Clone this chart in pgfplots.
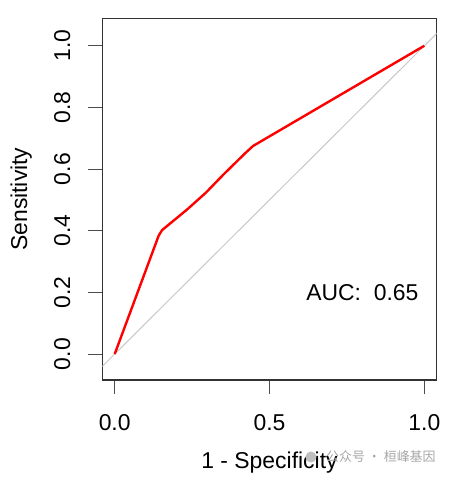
\documentclass[border=0pt]{standalone}
\usepackage{fontspec}
\setmainfont{Liberation Sans}
\newfontfamily\cjk{Noto Sans CJK SC}
\usepackage{pgfplots}
\pgfplotsset{compat=1.18}
\begin{document}
\begin{tikzpicture}
\useasboundingbox (0bp,0bp) rectangle (449bp,477bp);
\begin{axis}[
  at={(102.3bp,97bp)}, anchor=south west,
  scale only axis, width=334.4bp, height=361.7bp,
  xmin=-0.04, xmax=1.04, ymin=-0.084, ymax=1.089,
  xtick={0,0.5,1}, ytick={0,0.2,0.4,0.6,0.8,1},
  tick pos=left, tick align=outside,
  major tick length=14bp,
  tick style={black!70, line width=1bp},
  axis line style={black!80, line width=1.1bp},
  /pgf/number format/assume math mode=true,
  /pgf/number format/.cd, fixed, fixed zerofill, precision=1, /pgfplots/.cd,
  tick label style={font=\fontsize{23}{27}\selectfont, inner sep=0pt},
  xticklabel style={anchor=center, yshift=-29bp},
  yticklabel style={anchor=center, rotate=90, yshift=26bp},
  xlabel={1 - Specificity},
  ylabel={Sensitivity},
  label style={font=\fontsize{23}{27}\selectfont, inner sep=0pt},
  xlabel style={at={(axis description cs:0.5,-0.2295)}, anchor=center},
  ylabel style={at={(axis description cs:-0.2422,0.5)}, anchor=center},
  clip=true,
]
\addplot[color={rgb,255:red,200;green,200;blue,200}, line width=1bp, forget plot] coordinates {(-0.1,-0.1) (1.1,1.1)};
\addplot[red, line width=2.4bp, line join=round] coordinates {
(0,0) (0.142,0.384) (0.153,0.402) (0.234,0.469) (0.294,0.523) (0.353,0.584) (0.421,0.651) (0.447,0.675) (1,1)};
\node[font=\fontsize{23}{27}\selectfont, inner sep=0pt] at (axis cs:0.8,0.198) {AUC:\ \ 0.65};
\end{axis}
\fill[black!25] (311bp,20bp) circle (5.5bp);
\node[font=\cjk\fontsize{13}{15}\selectfont, text=black!35, anchor=west, inner sep=0pt] at (326bp,20bp) {公众号 · 桓峰基因};
\end{tikzpicture}
\end{document}
